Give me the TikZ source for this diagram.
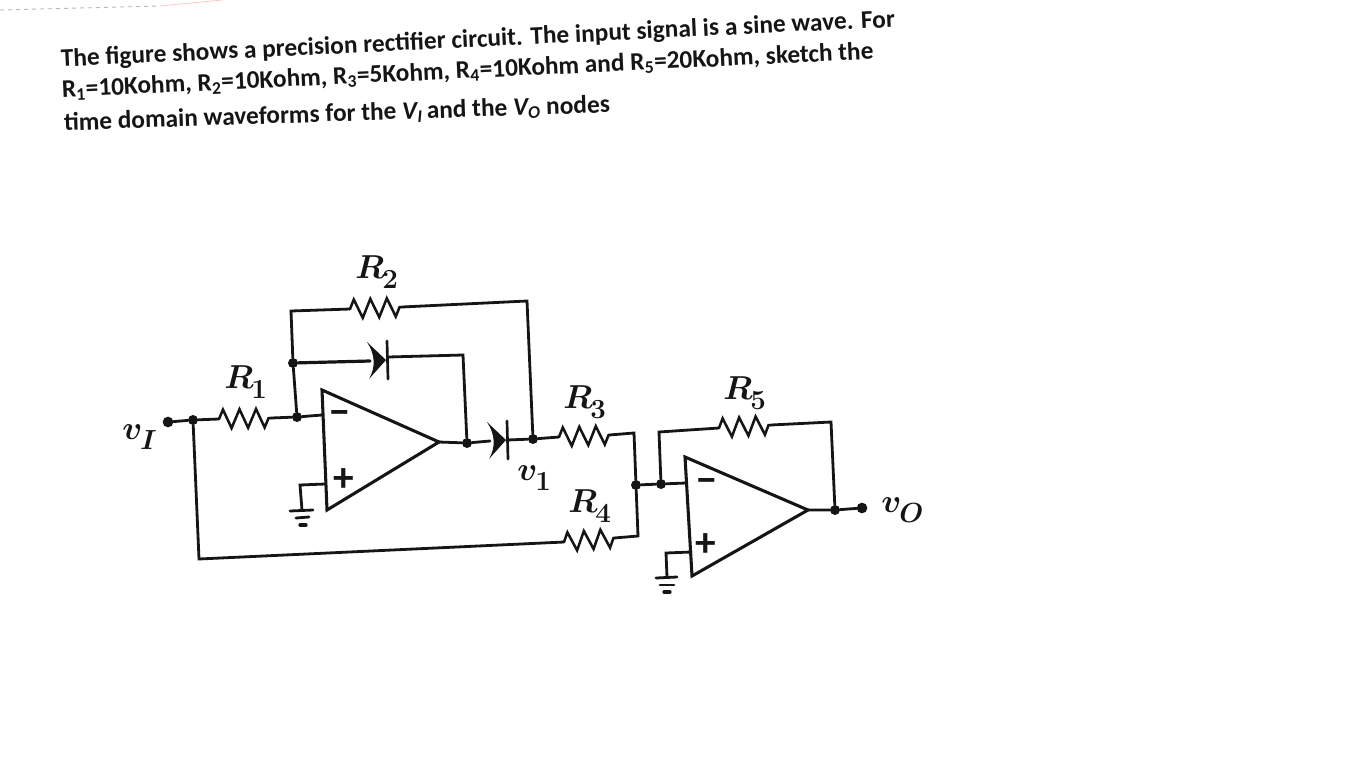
\documentclass[tikz,border=0pt]{standalone}
\usepackage{fontspec}
\setmainfont{Carlito}
\usetikzlibrary{decorations.pathmorphing}
\definecolor{ink}{HTML}{151515}
\newcommand{\diodeshape}[2]{% x, y of the wire where the triangle starts
  \fill[ink] (#1-1,#2-19) -- (#1+18,#2-1) -- (#1+1,#2+18) .. controls (#1+8,#2+6) and (#1+7,#2-7) .. cycle;
  \draw[wire,line width=2pt] (#1+19,#2-20) -- (#1+20,#2+18);
}
\newcommand{\lbl}[2]{$#1$\kern-1.5pt\raisebox{-7.5pt}{\fontsize{22}{22}\selectfont$#2$}}
\tikzset{
  x=0.75pt,y=-0.75pt,
  wire/.style={draw=ink,line width=2.1pt,line cap=round,line join=miter},
  res/.style={wire,line width=1.9pt,decorate,decoration={zigzag,segment length=12.4pt,amplitude=7pt}},
  dotnode/.style={circle,fill=ink,inner sep=0pt,minimum size=7.5pt},
  lab/.style={text=ink,inner sep=0pt,anchor=base west,font=\fontsize{24}{26}\selectfont\boldmath},
  sign/.style={text=ink,inner sep=0pt,font=\fontsize{31}{32}\selectfont\bfseries},
  para/.style={text=ink,inner sep=0pt,anchor=base west,font=\fontsize{19}{21}\selectfont\bfseries},
}
\begin{document}
\begin{tikzpicture}
\useasboundingbox (0,0) rectangle (1366,768);
% scan edge
\draw[gray!55,line width=0.7pt,dashed] (0,10) -- (160,6);
\draw[red!25,line width=0.5pt] (160,6) -- (222,0);
% question text
\node[para,rotate=2.75] (t1) at (61,67) {The figure shows a precision rectifier circuit. The input signal is a sine wave. For};
\node[para,rotate=2.7] (t2) at (62,97.5) {R\textsubscript{1}=10Kohm, R\textsubscript{2}=10Kohm, R\textsubscript{3}=5Kohm, R\textsubscript{4}=10Kohm and R\textsubscript{5}=20Kohm, sketch the};
\node[para,rotate=1.9] (t3) at (64,130.5) {time domain waveforms for the \textit{V\textsubscript{I}}\,and the \textit{V\textsubscript{O}} nodes};
% junctions
\node[dotnode,minimum size=8pt] (vi) at (168,422) {};
\node[dotnode] (j1) at (193,420) {};
\node[dotnode] (j2) at (297,417) {};
\node[dotnode] (j3) at (293,363) {};
\node[dotnode] (j4) at (467,443) {};
\node[dotnode] (j5) at (533,439) {};
\node[dotnode] (j6) at (636,485) {};
\node[dotnode] (j7) at (661,484) {};
\node[dotnode] (j8) at (835,510) {};
\node[dotnode,minimum size=8pt] (vo) at (862,508) {};
% op amps
\coordinate (a1t) at (322,390); \coordinate (a1b) at (327,510); \coordinate (a1o) at (439,442);
\coordinate (a1m) at (322,415); \coordinate (a1p) at (325,484);
\coordinate (a2t) at (685,457); \coordinate (a2b) at (692,576); \coordinate (a2o) at (808,510);
\coordinate (a2m) at (686,483); \coordinate (a2p) at (691,552);
\draw[wire,line width=2.3pt] (a1t) -- (a1o) -- (a1b) -- cycle;
\draw[wire,line width=2.3pt] (a2t) -- (a2o) -- (a2b) -- cycle;
\node[sign] (m1) at (340,418) {−};
\node[sign] (p1) at (344,480) {+};
\node[sign] (m2) at (707,486) {−};
\node[sign] (p2) at (706,545) {+};
% resistor ends
\coordinate (r1a) at (219,419); \coordinate (r1b) at (271,418);
\coordinate (r2a) at (350,309); \coordinate (r2b) at (402,307);
\coordinate (r3a) at (559,437); \coordinate (r3b) at (609,435);
\coordinate (r4a) at (564,542); \coordinate (r4b) at (614,538);
\coordinate (r5a) at (719,428); \coordinate (r5b) at (771,425);
\draw[res] (r1a) -- (r1b);
\draw[res] (r2a) -- (r2b);
\draw[res] (r3a) -- (r3b);
\draw[res] (r4a) -- (r4b);
\draw[res] (r5a) -- (r5b);
% wires
\draw[wire] (vi) -- (j1) -- (r1a);
\draw[wire] (r1b) -- (j2) -- (a1m);
\draw[wire] (j2) -- (j3) -- (291,311) -- (r2a);
\draw[wire] (r2b) -- (527,301) -- (j5);
\draw[wire,line width=2.4pt] (j3) -- (370,361);
\draw[wire] (388,357) -- (463,355) -- (j4);
\draw[wire] (a1o) -- (j4) -- (490,441);
\draw[wire] (507,440) -- (j5) -- (r3a);
\draw[wire] (r3b) -- (634,433) -- (j6) -- (638,536) -- (r4b);
\draw[wire] (j6) -- (j7) -- (a2m);
\draw[wire] (j7) -- (659,432) -- (r5a);
\draw[wire] (r5b) -- (831,422) -- (j8);
\draw[wire] (a2o) -- (j8) -- (vo);
\draw[wire] (j1) -- (199,559) -- (r4a);
% diodes
\diodeshape{368}{361}
\diodeshape{488}{441}
% grounds
\draw[wire] (a1p) -- (300,485) -- (302,510);
\draw[wire] (290,511) -- (313,510);
\draw[wire] (296,518) -- (309,517);
\draw[wire,line width=2.4pt] (300,525) -- (306,525);
\draw[wire] (a2p) -- (666,553) -- (667,577);
\draw[wire] (656,578) -- (677,577);
\draw[wire] (660,585) -- (674,585);
\draw[wire,line width=2.4pt] (664,592) -- (670,592);
% labels
\node[lab] (lr2) at (355,278) {\lbl{R}{2}};
\node[lab] (lr1) at (224,388) {\lbl{R}{1}};
\node[lab] (lr3) at (563,408) {\lbl{R}{3}};
\node[lab] (lr4) at (568,512) {\lbl{R}{4}};
\node[lab] (lr5) at (723,399) {\lbl{R}{5}};
\node[lab] (lv1) at (517,480) {\lbl{v}{1}};
\node[lab] (lvi) at (122,439) {\lbl{v}{I}};
\node[lab] (lvo) at (881,512) {\lbl{v}{O}};
\end{tikzpicture}
\end{document}
